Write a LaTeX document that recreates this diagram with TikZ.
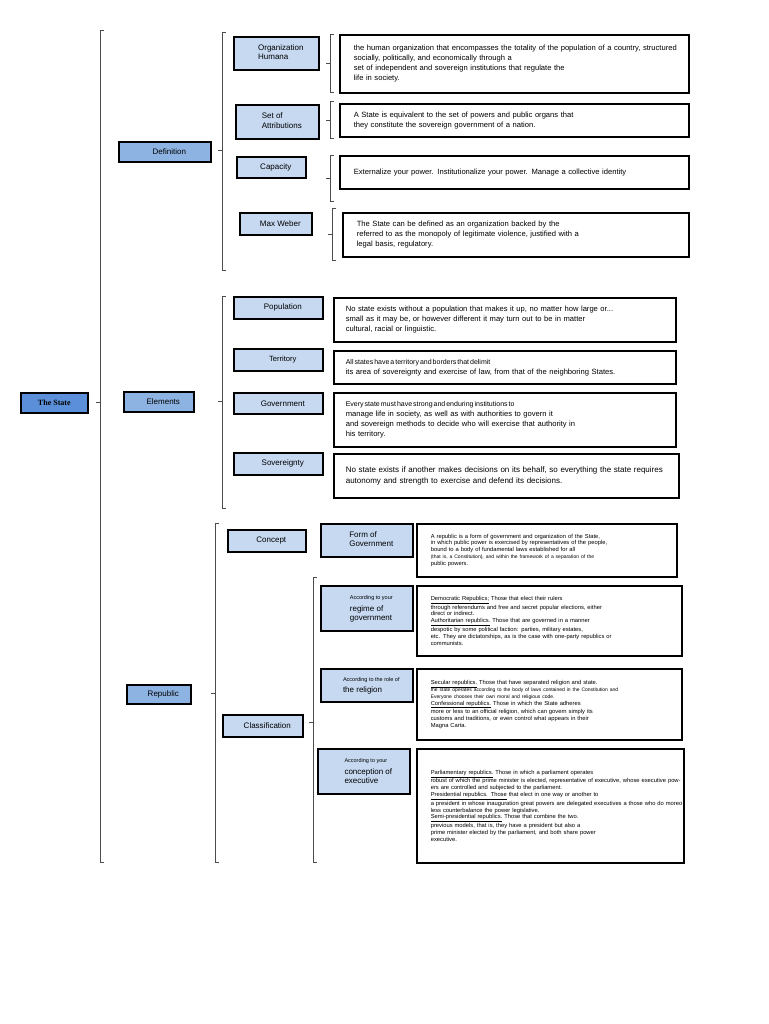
\documentclass[tikz,border=0pt]{standalone}
\usepackage{fontspec}
\setmainfont{Liberation Sans}
\newfontfamily\serifb{Liberation Serif}
\definecolor{topc}{HTML}{5B8FD9}
\definecolor{midc}{HTML}{8DB3E2}
\definecolor{lowc}{HTML}{C6D9F1}
\begin{document}
\begin{tikzpicture}[x=1pt,y=-1pt,
  base/.style={draw=black,line width=1.6pt,inner sep=0pt,anchor=north west,align=left},
  hb/.style={base,fill=lowc,font=\fontsize{8}{9.5}\selectfont},
  mb/.style={base,fill=midc,font=\fontsize{8}{9.5}\selectfont},
  tb/.style={base,fill=white,font=\fontsize{7.6}{10}\selectfont},
  sb/.style={base,fill=white,font=\fontsize{5.8}{6.9}\selectfont},
  brk/.style={draw=black!70,line width=0.6pt}]
\useasboundingbox (0,0) rectangle (768,1024);
\newcommand{\bx}[6]{\node[#2,minimum width=#5-#3,minimum height=#6-#4,text width=#5-#3-14] (#1) at (#3,#4) {};}
\newcommand{\brkt}[4]{\draw[brk] (#1+4,#2) -- (#1,#2) -- (#1,#3) -- (#1+4,#3); \draw[brk] (#1,#4) -- (#1-4,#4);}
% brackets
\brkt{100}{30}{862}{402}
\brkt{222}{32}{270}{150}
\brkt{222}{296}{508}{401}
\brkt{215}{523}{862}{693}
\brkt{313}{577}{862}{722}
\brkt{330}{34}{92}{63}
\brkt{330}{101}{138}{120}
\brkt{330}{155}{201}{178}
\brkt{332}{208}{260}{234}
% top
\node[base,fill=topc,minimum width=67,minimum height=20,font=\serifb\bfseries\fontsize{8}{9}\selectfont,align=center] (state) at (20,392) {The State};
\node[mb,minimum width=92,minimum height=20] (def) at (118,141) {\hspace{9pt}Definition};
\node[mb,minimum width=70,minimum height=20] (ele) at (123,391) {\hspace{9pt}Elements};
\node[mb,minimum width=64,minimum height=19] (rep) at (126,684) {\hspace{9pt}Republic};
% level 2
\node[hb,minimum width=85,minimum height=33] (org) at (233,36) {\hspace{9pt}\begin{tabular}{@{}l@{}}Organization\\Humana\end{tabular}};
\node[hb,minimum width=83,minimum height=34] (set) at (235,104) {\hspace{9pt}\begin{tabular}{@{}l@{}}Set of\\Attributions\end{tabular}};
\node[hb,minimum width=69,minimum height=21] (cap) at (236,156) {\hspace{9pt}Capacity};
\node[hb,minimum width=72,minimum height=22] (mw) at (239,212) {\hspace{9pt}Max Weber};
\node[hb,minimum width=89,minimum height=22] (pop) at (233,296) {\hspace{9pt}Population};
\node[hb,minimum width=89,minimum height=22,font=\fontsize{7.6}{9}\selectfont] (ter) at (233,348) {\hspace{9pt}Territory};
\node[hb,minimum width=89,minimum height=21] (gov) at (233,392) {\hspace{9pt}Government};
\node[hb,minimum width=89,minimum height=22] (sov) at (233,452) {\hspace{9pt}Sovereignty};
\node[hb,minimum width=78,minimum height=22] (con) at (227,529) {\hspace{9pt}Concept};
\node[hb,minimum width=80,minimum height=22] (cla) at (222,714) {\hspace{9pt}Classification};
\node[hb,minimum width=92,minimum height=33] (fog) at (320,523) {\hspace{9pt}\begin{tabular}{@{}l@{}}Form of\\Government\end{tabular}};
\node[hb,minimum width=92,minimum height=45] (reg) at (320,585) {\hspace{9pt}\begin{tabular}{@{}l@{}}{\fontsize{5.5}{7}\selectfont According to your}\\[2pt]regime of\\government\end{tabular}};
\node[hb,minimum width=92,minimum height=33] (rel) at (320,668) {\hspace{9pt}\begin{tabular}{@{}l@{}}{\fontsize{5.5}{7}\selectfont According to the role of}\\[2pt]the religion\end{tabular}};
\node[hb,minimum width=92,minimum height=45] (exe) at (317,748) {\hspace{9pt}\begin{tabular}{@{}l@{}}{\fontsize{5.5}{7}\selectfont According to your}\\[2pt]conception of\\executive\end{tabular}};
% text boxes
\node[tb,minimum width=349,minimum height=58,text width=339] (t1) at (339,34) {\hspace{9pt}\parbox{330pt}{the human organization that encompasses the totality of the population of a country, structured socially, politically, and economically through a\\ set of independent and sovereign institutions that regulate the\\ life in society.}};
\node[tb,minimum width=349,minimum height=33,text width=339] (t2) at (339,103) {\hspace{9pt}\parbox{330pt}{A State is equivalent to the set of powers and public organs that\\ they constitute the sovereign government of a nation.}};
\node[tb,minimum width=349,minimum height=33,text width=339] (t3) at (339,155) {\hspace{9pt}\parbox{330pt}{Externalize your power. Institutionalize your power. Manage a collective identity}};
\node[tb,minimum width=346,minimum height=44,text width=336] (t4) at (342,212) {\hspace{9pt}\parbox{320pt}{The State can be defined as an organization backed by the\\ referred to as the monopoly of legitimate violence, justified with a\\ legal basis, regulatory.}};
\node[tb,minimum width=342,minimum height=44,text width=332] (e1) at (333,297) {\hspace{7pt}\parbox{325pt}{No state exists without a population that makes it up, no matter how large or...\\ small as it may be, or however different it may turn out to be in matter\\ cultural, racial or linguistic.}};
\node[tb,minimum width=342,minimum height=33,text width=332] (e2) at (333,350) {\hspace{7pt}\parbox{325pt}{{\fontsize{7}{9}\selectfont\spaceskip=1pt All states have a territory and borders that delimit}\\ its area of sovereignty and exercise of law, from that of the neighboring States.}};
\node[tb,minimum width=342,minimum height=54,text width=332] (e3) at (333,392) {\hspace{7pt}\parbox{325pt}{{\fontsize{7}{9}\selectfont\spaceskip=1pt Every state must have strong and enduring institutions to}\\ manage life in society, as well as with authorities to govern it\\ and sovereign methods to decide who will exercise that authority in\\ his territory.}};
\node[tb,minimum width=345,minimum height=44,text width=335,font=\fontsize{8}{10.5}\selectfont] (e4) at (333,453) {\hspace{7pt}\parbox{325pt}{No state exists if another makes decisions on its behalf, so everything the state requires autonomy and strength to exercise and defend its decisions.}};
\node[sb,minimum width=260,minimum height=53,text width=250] (r1) at (416,523) {\hspace{9pt}\parbox{245pt}{A republic is a form of government and organization of the State,\\ in which public power is exercised by representatives of the people,\\ bound to a body of fundamental laws established for all\\ {\fontsize{5}{6.5}\selectfont (that is, a Constitution), and within the framework of a separation of the}\\ public powers.}};
\node[sb,minimum width=265,minimum height=70,text width=255] (r2) at (416,585) {\hspace{9pt}\parbox{250pt}{\underline{Democratic Republics;} Those that elect their rulers\\ through referendums and free and secret popular elections, either\\ direct or indirect.\\ \underline{Authoritarian republics.} Those that are governed in a manner\\ despotic by some political faction: parties, military estates,\\ etc. They are dictatorships, as is the case with one-party republics or\\ communists.}};
\node[sb,minimum width=265,minimum height=71,text width=255] (r3) at (416,668) {\hspace{9pt}\parbox{252pt}{\underline{Secular republics.} Those that have separated religion and state.\\ {\fontsize{5}{6.8}\selectfont the state operates according to the body of laws contained in the Constitution and}\\ {\fontsize{5}{6.8}\selectfont Everyone chooses their own moral and religious code.}\\ \underline{Confessional republics.} Those in which the State adheres\\ more or less to an official religion, which can govern simply its\\ customs and traditions, or even control what appears in their\\ Magna Carta.}};
\node[sb,minimum width=267,minimum height=114,text width=257] (r4) at (416,748) {\hspace{9pt}\parbox{255pt}{\underline{Parliamentary republics.} Those in which a parliament operates\\ robust of which the prime minister is elected, representative of executive, whose executive powers are controlled and subjected to the parliament.\\ \underline{Presidential republics. Those} that elect in one way or another to\\ a president in whose inauguration great powers are delegated executives a those who do moreo less counterbalance the power legislative.\\ \underline{Semi-presidential republics.} Those that combine the two.\\ previous models, that is, they have a president but also a\\ prime minister elected by the parliament, and both share power\\ executive.}};
\end{tikzpicture}
\end{document}
